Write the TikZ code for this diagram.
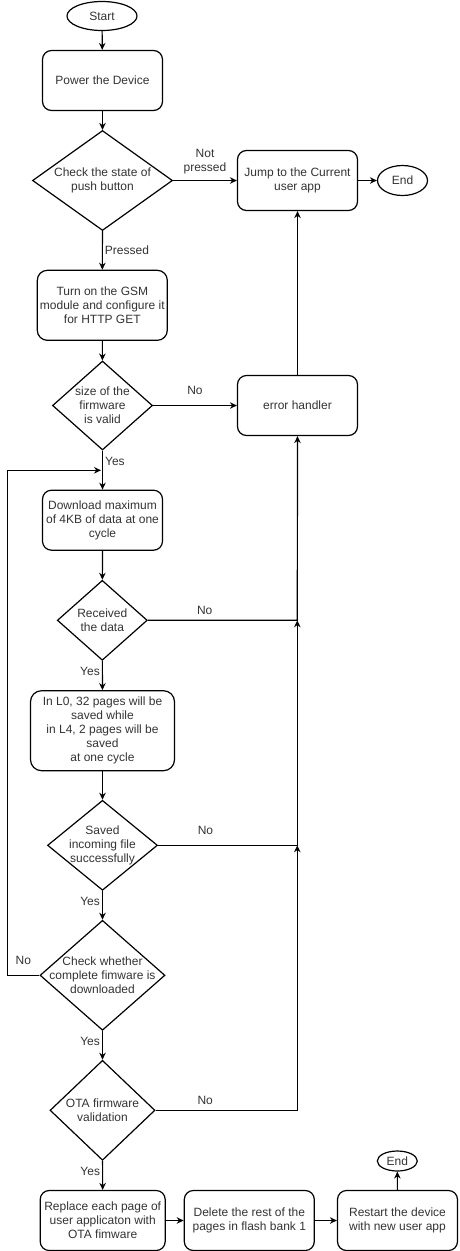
\documentclass[tikz,border=0pt]{standalone}
\usepackage{fontspec}
\setmainfont{Liberation Sans}
\usetikzlibrary{arrows.meta}
\usetikzlibrary{shapes.geometric}
\usepackage{xcolor}
\definecolor{txtgrey}{HTML}{333333}

\tikzset{
    proc/.style={draw, rounded corners=9pt, align=center, inner sep=1pt, text=txtgrey},
    dec/.style={draw, diamond, inner sep=0pt},
    term/.style={draw, ellipse, inner sep=0pt, text=txtgrey},
    dectext/.style={text=txtgrey, align=center, inner sep=0pt},
    lbl/.style={text=txtgrey, align=center, inner sep=2pt},
}

\begin{document}
\begin{tikzpicture}[x=1pt, y=-1pt, line width=1.2pt, >={Stealth[length=7pt,width=6.5pt]},
        font=\fontsize{12}{14}\selectfont]
        \useasboundingbox (0,0) rectangle (459,1251);

        \coordinate (j1) at (297.3,620.3);
        \coordinate (j2) at (297.3,845.3);
        \coordinate (j3) at (297.3,1110.3);
        \coordinate (j4) at (7.3,975.3);
        \coordinate (j5) at (101,470.3);

        \node[term, minimum width=70pt, minimum height=29pt] (start) at (102,16) {Start};
        \node[proc, minimum width=120pt, minimum height=60pt] (power) at (102.5,80.5) {Power the Device};
        \node[dec, minimum width=140pt, minimum height=100pt, label={[dectext]center:Check the state of\\push button}] (push) at (102.5,180.5) {};
        \node[proc, minimum width=120pt, minimum height=60pt] (jump) at (297.5,180.5) {Jump to the Current\\user app};
        \node[term, minimum width=50pt, minimum height=30pt] (end1) at (402.5,180.5) {End};
        \node[proc, rounded corners=10pt, minimum width=130pt, minimum height=70pt] (gsm) at (102.3,305.3) {Turn on the GSM\\module and configure it\\for HTTP GET};
        \node[dec, minimum width=100pt, minimum height=89pt, label={[dectext]center:size of the\\firmware\\is valid}] (size) at (102.5,405.5) {};
        \node[proc, minimum width=120pt, minimum height=60pt] (err) at (297.5,405.5) {error handler};
        \node[proc, minimum width=120pt, minimum height=60pt] (dl) at (102.5,520.2) {Download maximum\\of 4KB of data at one\\cycle};
        \node[dec, minimum width=90pt, minimum height=80pt, label={[dectext]center:Received\\the data}] (recv) at (102.3,620.3) {};
        \node[proc, rounded corners=11pt, minimum width=144pt, minimum height=80pt] (save) at (102.5,730.7) {In L0, 32 pages will be\\saved while\\in L4, 2 pages will be\\saved\\at one cycle};
        \node[dec, minimum width=110pt, minimum height=90pt, label={[dectext]center:Saved\\incoming file\\successfully}] (saved) at (102.5,845.3) {};
        \node[dec, minimum width=125pt, minimum height=110pt, label={[dectext]center:Check whether\\complete fimware is\\downloaded}] (done) at (102.5,975.3) {};
        \node[dec, minimum width=105pt, minimum height=100pt, label={[dectext]center:OTA firmware\\validation}] (ota) at (102.5,1110.3) {};
        \node[proc, minimum width=125pt, minimum height=60pt] (rep) at (102.7,1220.5) {Replace each page of\\user applicaton with\\OTA fimware};
        \node[proc, minimum width=130pt, minimum height=60pt] (del) at (249.3,1220.5) {Delete the rest of the\\pages in flash bank 1};
        \node[proc, minimum width=120pt, minimum height=60pt] (rst) at (397.5,1220.5) {Restart the device\\with new user app};
        \node[term, minimum width=40pt, minimum height=20pt] (end2) at (397.3,1161) {End};

        \draw[->] (start) -- (power);
        \draw[->] (power) -- (push);
        \draw[->] (push) -- node[lbl, above=4pt] {Not\\pressed} (jump);
        \draw[->] (jump) -- (end1);
        \draw[->] (push) -- node[lbl, right] {Pressed} (gsm);
        \draw[->] (gsm) -- (size);
        \draw[->] (size) -- node[lbl, above=8pt] {No} (err);
        \draw[->] (err) -- (jump);
        \draw[->] (size) -- node[lbl, right, pos=0.27] {Yes} (dl);
        \draw[->] (dl) -- (recv);
        \draw[->] (recv) -- node[lbl, above=3pt, pos=0.38] {No} (j1) -- (err);
        \draw[->] (recv) -- node[lbl, left, pos=0.35] {Yes} (save);
        \draw[->] (save) -- (saved);
        \draw[->] (saved) -- node[lbl, above=8pt, pos=0.34] {No} (j2) -- (j1);
        \draw[->] (saved) -- node[lbl, left, pos=0.35] {Yes} (done);
        \draw[->] (done.west) -- node[lbl, above=8pt] {No} (j4) |- (j5);
        \draw[->] (done) -- node[lbl, left, pos=0.35] {Yes} (ota);
        \draw[->] (ota) -- node[lbl, above=3pt, pos=0.35] {No} (j3) -- (j2);
        \draw[->] (ota) -- node[lbl, left, pos=0.35] {Yes} (rep);
        \draw[->] (rep) -- (del);
        \draw[->] (del) -- (rst);
        \draw[->] (rst) -- (end2);

    \end{tikzpicture}
\end{document}
